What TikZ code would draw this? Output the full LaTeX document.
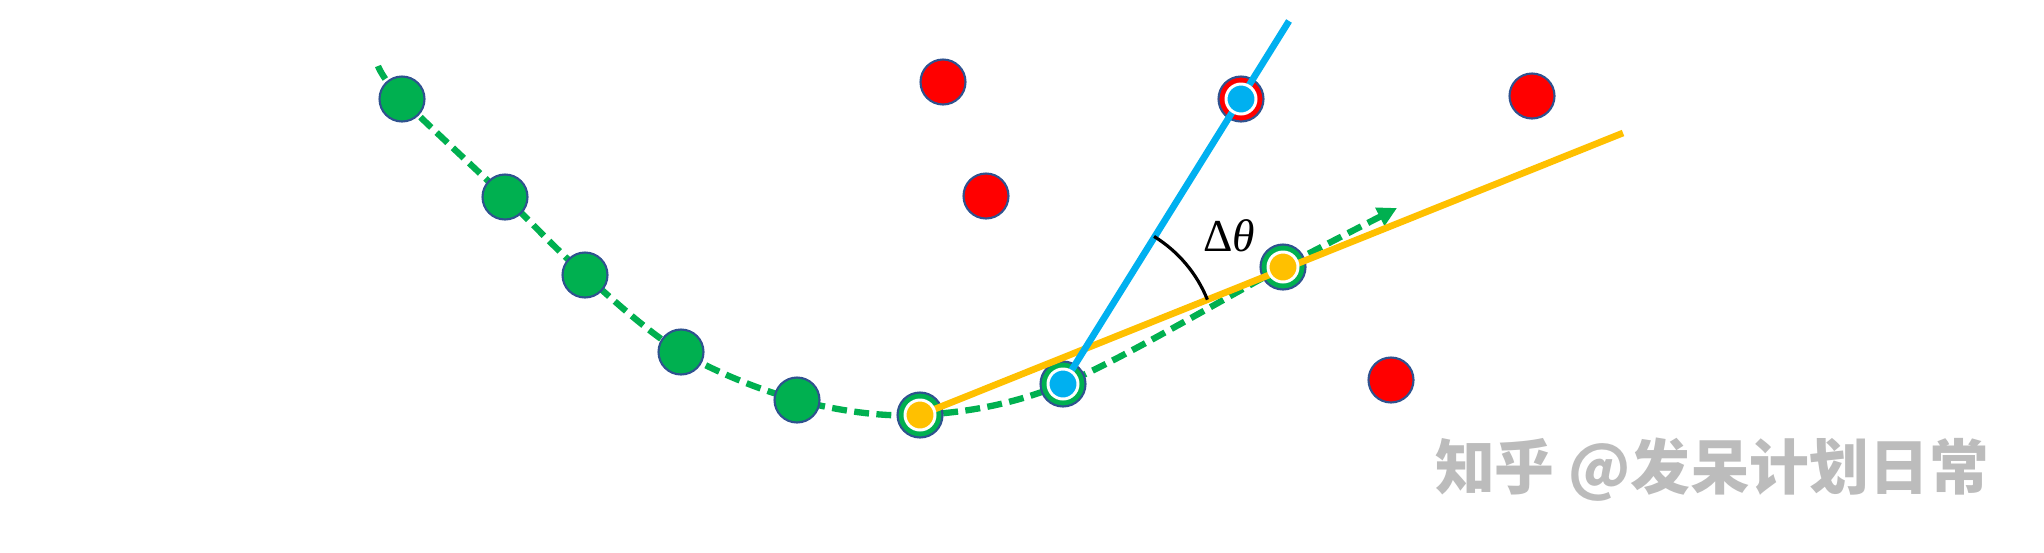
\documentclass[tikz,border=0pt]{standalone}
\usepackage{fontspec}
\newfontfamily\cjk{Noto Sans CJK SC}
\newfontfamily\tnr{Liberation Serif}
\usetikzlibrary{arrows.meta}
\definecolor{pgreen}{HTML}{00B050}
\definecolor{pyellow}{HTML}{FFC000}
\definecolor{pblue}{HTML}{00B0F0}
\definecolor{pred}{HTML}{FF0000}
\definecolor{oline}{HTML}{2F528F}
\definecolor{wmgray}{HTML}{BCBCBC}
\pgfdeclarelayer{bg}
\pgfsetlayers{bg,main}
\begin{document}
\begin{tikzpicture}[x=0.02cm,y=-0.02cm,
  dot/.style={circle, minimum size=0.9cm, inner sep=0pt, line width=1.2pt, draw=oline},
  gdot/.style={dot, fill=pgreen},
  rdot/.style={dot, fill=pred},
  ring/.style={circle, minimum size=0.9cm, inner sep=0pt, line width=1.2pt, draw=oline},
  core/.style={circle, minimum size=0.6cm, inner sep=0pt, line width=1.7pt, draw=white},
  traj/.style={pgreen, line width=3.6pt, dash pattern=on 8.5pt off 4.2pt,
    -{Triangle[length=11pt,width=11pt]}},
  heading/.style={line width=3.8pt}
]
% free ends
\coordinate (dstart) at (378,66);
\coordinate (dend) at (1397,208);
\coordinate (bend) at (1289,21);
\coordinate (yend) at (1623,133);
% plain dots
\node[gdot] (g1) at (402,99) {};
\node[gdot] (g2) at (505,197) {};
\node[gdot] (g3) at (585,275) {};
\node[gdot] (g4) at (681,352) {};
\node[gdot] (g5) at (797,400) {};
\node[rdot] (r1) at (943,82) {};
\node[rdot] (r2) at (986,196) {};
\node[rdot] (r3) at (1532,96) {};
\node[rdot] (r4) at (1391,380) {};
% ringed nodes
\node[ring, fill=pgreen] (y1) at (920,415) {};
\node[ring, fill=pgreen] (b1) at (1063,384) {};
\node[ring, fill=pgreen] (y2) at (1283,267) {};
\node[ring, fill=pred] (rb) at (1241,99) {};
% background and trajectory
\begin{pgfonlayer}{bg}
\fill[white] (0,0) rectangle (2044,552);
\draw[traj] plot[smooth, tension=0.55] coordinates {(dstart) (g1.center) (g2.center) (g3.center) (g4.center) (g5.center) (y1.center) (b1.center) (y2.center) (dend)};
\end{pgfonlayer}
% headings
\draw[heading, pyellow] (y1.center) -- (yend);
\draw[heading, pblue] (b1.center) -- (bend);
% cores
\node[core, fill=pyellow] (y1c) at (y1.center) {};
\node[core, fill=pblue] (b1c) at (b1.center) {};
\node[core, fill=pyellow] (y2c) at (y2.center) {};
\node[core, fill=pblue] (rbc) at (rb.center) {};
% angle
\coordinate (o) at (intersection of b1.center--bend and y1.center--yend);
\draw[line width=1.8pt, black] (o) ++(-58.4:132) arc[start angle=-58.4, end angle=-21.9, radius=132];
\node[font=\tnr\fontsize{26}{30}\selectfont, text=black] (dt) at (1229,236) {Δ\textit{θ}};
% watermark
\node[text=wmgray, font=\cjk\bfseries\fontsize{34}{40}\selectfont] (wm) at (1712,470) {知乎 @发呆计划日常};
\end{tikzpicture}
\end{document}
